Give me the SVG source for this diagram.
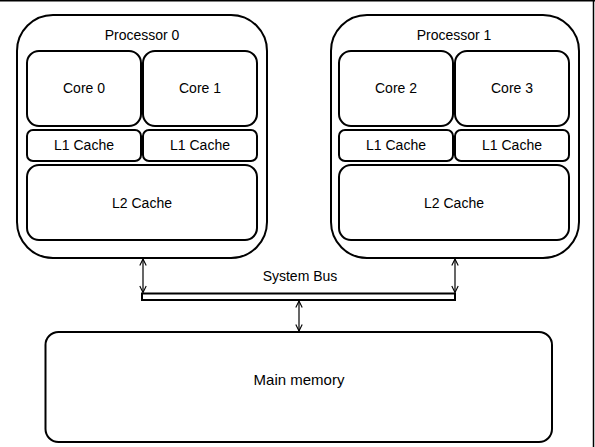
<svg xmlns="http://www.w3.org/2000/svg" width="595" height="447" viewBox="0 0 595 447">
<style>
.box{fill:#fff;stroke:#000;stroke-width:2}
.t{font-family:"Liberation Sans",Arial,sans-serif;font-size:14px;fill:#000;text-anchor:middle}
.c{stroke:#000;stroke-width:1.2;fill:none;marker-start:url(#ah);marker-end:url(#ah)}
</style>
<defs>
<marker id="ah" viewBox="0 0 10 10" refX="9" refY="5" markerWidth="8" markerHeight="8" orient="auto-start-reverse" markerUnits="userSpaceOnUse">
<path d="M1,1 L9,5 L1,9" fill="none" stroke="#000" stroke-width="1.4"/>
</marker>
</defs>
<rect width="595" height="447" fill="#fff"/>
<line x1="0" y1="0.75" x2="595" y2="0.75" stroke="#000" stroke-width="1.5"/>
<line x1="593.5" y1="0" x2="593.5" y2="447" stroke="#000" stroke-width="1.5"/>
<g id="processor0">
<rect class="box" x="17" y="15" width="250" height="243" rx="36"/>
<text class="t" x="142" y="40">Processor 0</text>
</g>
<g id="core0"><rect class="box" x="27" y="51" width="114" height="75" rx="12"/><text class="t" x="84" y="93">Core 0</text></g>
<g id="core1"><rect class="box" x="143" y="51" width="114" height="75" rx="12"/><text class="t" x="200" y="93">Core 1</text></g>
<g id="l1a"><rect class="box" x="27" y="130" width="114" height="31" rx="6"/><text class="t" x="84" y="150">L1 Cache</text></g>
<g id="l1b"><rect class="box" x="143" y="130" width="114" height="31" rx="6"/><text class="t" x="200" y="150">L1 Cache</text></g>
<g id="l2a"><rect class="box" x="27" y="165" width="230" height="75" rx="12"/><text class="t" x="142" y="208">L2 Cache</text></g>
<g id="processor1">
<rect class="box" x="331" y="15" width="248" height="243" rx="36"/>
<text class="t" x="454" y="40">Processor 1</text>
</g>
<g id="core2"><rect class="box" x="339" y="51" width="114" height="75" rx="12"/><text class="t" x="396" y="93">Core 2</text></g>
<g id="core3"><rect class="box" x="455" y="51" width="114" height="75" rx="12"/><text class="t" x="512" y="93">Core 3</text></g>
<g id="l1c"><rect class="box" x="339" y="130" width="114" height="31" rx="6"/><text class="t" x="396" y="150">L1 Cache</text></g>
<g id="l1d"><rect class="box" x="455" y="130" width="114" height="31" rx="6"/><text class="t" x="512" y="150">L1 Cache</text></g>
<g id="l2b"><rect class="box" x="339" y="165" width="230" height="75" rx="12"/><text class="t" x="454" y="208">L2 Cache</text></g>
<g id="bus">
<rect class="box" x="142" y="293.5" width="313" height="6.5"/>
<text class="t" x="300" y="281">System Bus</text>
</g>
<g id="memory">
<rect class="box" x="45.5" y="332" width="506.5" height="110" rx="13"/>
<text class="t" x="299" y="385" style="font-size:15px">Main memory</text>
</g>
<g id="connectors">
<line class="c" x1="143" y1="259" x2="143" y2="292.5"/>
<line class="c" x1="455" y1="259" x2="455" y2="292.5"/>
<line class="c" x1="299" y1="301" x2="299" y2="331"/>
</g>
</svg>
